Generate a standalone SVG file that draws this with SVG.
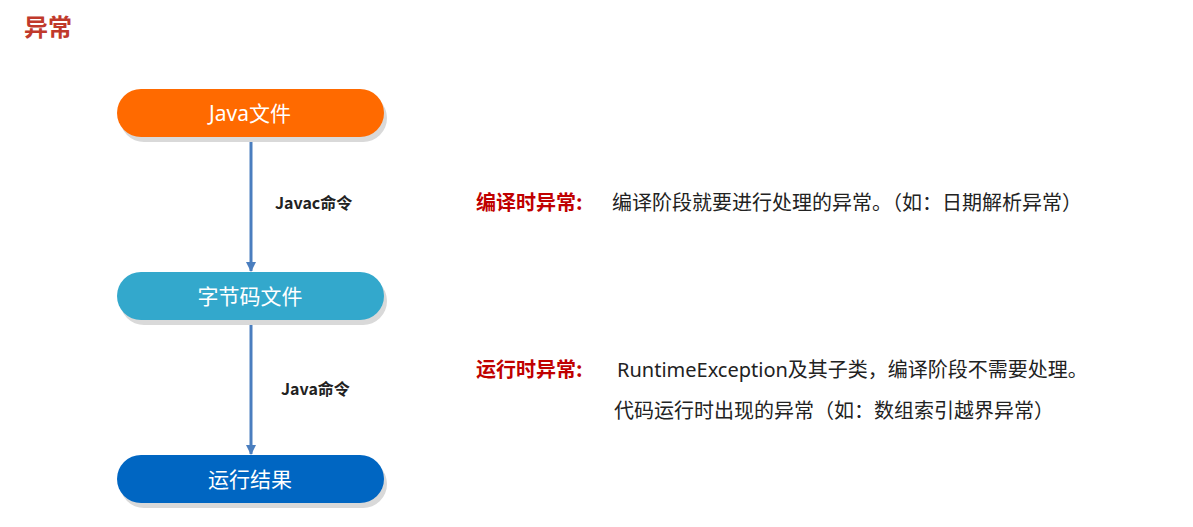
<svg xmlns="http://www.w3.org/2000/svg" width="1193" height="527" viewBox="0 0 1193 527">
<style>
.n text{font-family:"Noto Sans","Noto Sans CJK SC",sans-serif;font-size:21px;fill:#fff;text-anchor:middle}
.sh{fill:#d9d9d9}
.lbl{font-family:"Noto Sans CJK SC",sans-serif;font-size:16px;font-weight:bold;fill:#222}
.t{font-family:"Noto Sans","Noto Sans CJK SC",sans-serif;font-size:20px;fill:#222}
.r{font-family:"Noto Sans CJK SC",sans-serif;font-size:20px;font-weight:bold;fill:#c00000}
</style>
<defs><marker id="ah" markerWidth="10" markerHeight="10" refX="9" refY="5" orient="auto" markerUnits="userSpaceOnUse"><path d="M0,0 L10,5 L0,10 z" fill="#4a7ebf"/></marker></defs>
<rect width="1193" height="527" fill="#fff"/>
<text x="24" y="36" font-family="Noto Sans CJK SC,sans-serif" font-size="24" font-weight="bold" fill="#c0392b">异常</text>
<g id="connectors" stroke="#4a7ebf" stroke-width="3">
<line x1="251" y1="137" x2="251" y2="271" marker-end="url(#ah)"/>
<line x1="251" y1="320" x2="251" y2="454" marker-end="url(#ah)"/>
</g>
<text class="lbl" x="275" y="209">Javac命令</text>
<text class="lbl" x="281" y="395">Java命令</text>
<g id="n1" class="n"><rect class="sh" x="120" y="94" width="267" height="48" rx="24"/><rect x="117" y="89" width="267" height="48" rx="24" fill="#ff6a00"/><text x="250" y="121">Java文件</text></g>
<g id="n2" class="n"><rect class="sh" x="120" y="277" width="267" height="48" rx="24"/><rect x="117" y="272" width="267" height="48" rx="24" fill="#33a8cc"/><text x="250" y="304">字节码文件</text></g>
<g id="n3" class="n"><rect class="sh" x="120" y="460" width="267" height="48" rx="24"/><rect x="117" y="455" width="267" height="48" rx="24" fill="#0066c2"/><text x="250" y="487">运行结果</text></g>
<text class="r" x="476" y="210">编译时异常:</text>
<text class="t" x="612" y="210">编译阶段就要进行处理的异常。（如：日期解析异常）</text>
<text class="r" x="476" y="377">运行时异常:</text>
<text class="t" x="617" y="377">RuntimeException及其子类，编译阶段不需要处理。</text>
<text class="t" x="614" y="418">代码运行时出现的异常（如：数组索引越界异常）</text>
</svg>
